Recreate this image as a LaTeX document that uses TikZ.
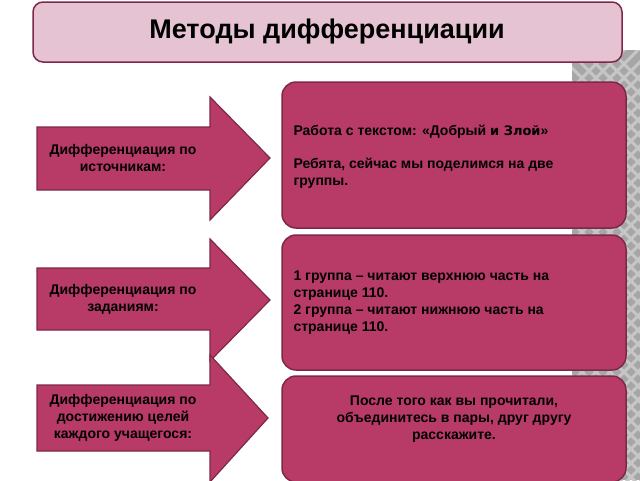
\documentclass[tikz,border=0pt]{standalone}
\usepackage{fontspec}
\setmainfont{Liberation Sans}
\begin{document}
\begin{tikzpicture}[x=1pt,y=-1pt,
  box/.style={draw=bd,fill=bx,line width=1.5pt,rounded corners=14pt},
  arr/.style={draw=bd,fill=bx,line width=1.2pt},
  lbl/.style={font=\bfseries\fontsize{14}{17}\selectfont,align=center,text=black},
  btxt/.style={font=\bfseries\fontsize{14}{17}\selectfont,align=left,text=black,anchor=west}]
\definecolor{bx}{HTML}{B83A66}
\definecolor{bd}{HTML}{7E2848}
\definecolor{tb}{HTML}{E6C3D3}
\useasboundingbox (0,0) rectangle (640,480);
\fill[white] (0,0) rectangle (640,480);
\begin{scope}
\clip (572,50) rectangle (640,480);
\fill[gray!70] (572,50) rectangle (640,480);
\foreach \k in {0,14,...,560}{
  \draw[gray!45,line width=3pt] (560,\k) -- ++(100,100);
  \draw[gray!45,line width=3pt] (660,\k) -- ++(-100,100);
}
\end{scope}
\draw[draw=bd,fill=tb,line width=1.5pt,rounded corners=10pt] (33,2) rectangle (622,62);
\node[font=\bfseries\fontsize{27}{30}\selectfont] (title) at (327,32) {Методы дифференциации};
\draw[box] (282,82) rectangle (626,228);
\draw[box] (282,235) rectangle (626,370);
\draw[box] (282,376) rectangle (626,482);
\node[btxt] (t1) at (290,157) {Работа с текстом: «Добрый {\fontspec{DejaVu Sans}\bfseries\fontsize{13}{17}\selectfont и Злой}»\\[16pt]Ребята, сейчас мы поделимся на две\\группы.};
\node[btxt] (t2) at (290,303) {1 группа – читают верхнюю часть на\\странице 110.\\2 группа – читают нижнюю часть на\\странице 110.};
\node[lbl] (t3) at (454,419) {После того как вы прочитали,\\ объединитесь в пары, друг другу\\ расскажите.};
\draw[arr] (37,127) -- (210,127) -- (210,97) -- (270,158) -- (210,220) -- (210,190) -- (37,190) -- cycle;
\draw[arr] (37,268) -- (210,268) -- (210,239) -- (270,300) -- (210,361) -- (210,330) -- (37,330) -- cycle;
\draw[arr] (37,385) -- (210,385) -- (210,355) -- (268,418) -- (210,482) -- (210,451) -- (37,451) -- cycle;
\node[lbl] (a1) at (123,158) {Дифференциация по\\источникам:};
\node[lbl] (a2) at (123,299) {Дифференциация по\\заданиям:};
\node[lbl] (a3) at (123,418) {Дифференциация по\\достижению целей\\каждого учащегося:};
\end{tikzpicture}
\end{document}
